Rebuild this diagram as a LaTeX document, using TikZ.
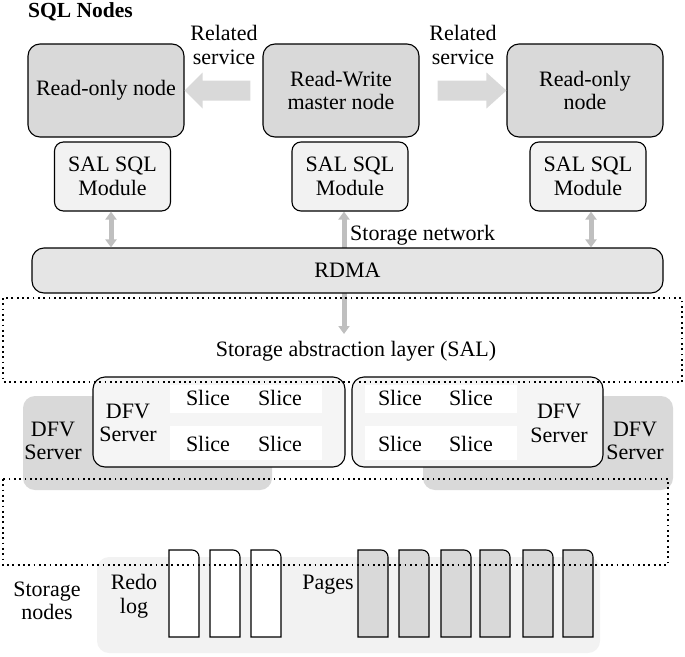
\documentclass[tikz,border=0pt]{standalone}
\usepackage{fontspec}
\setmainfont{Liberation Serif}
\usetikzlibrary{arrows.meta,calc}
\pgfdeclarelayer{bg}
\pgfdeclarelayer{fg}
\pgfsetlayers{bg,main,fg}
\begin{document}
\begin{tikzpicture}[x=1pt,y=-1pt,
  font=\fontsize{22}{23.5}\selectfont,
  box/.style={draw, line width=1.1pt, rounded corners=#1, align=center, inner sep=0pt},
  sqlnode/.style={box=12pt, fill=gray!30, minimum width=156pt, minimum height=93pt},
  module/.style={box=9pt, fill=gray!10, minimum width=116pt, minimum height=69pt},
  lbl/.style={inner sep=0pt, align=center},
  bigarrow/.style={fill=gray!30, draw=none},
  vlink/.style={draw=gray!50, line width=5pt, >={Triangle[width=11pt,length=8pt]}, <->},
  dotbox/.style={draw, line width=1.8pt, dash pattern=on 1.8pt off 3.5pt},
  grayback/.style={fill=gray!30, rounded corners=12pt, draw=none, inner sep=0pt},
  slicerow/.style={fill=white, draw=none, inner sep=0pt, minimum width=152pt},
  doc/.style={draw, line width=1.1pt}
]
\useasboundingbox (0,0) rectangle (685,656);

% title
\node[lbl, anchor=west, font=\fontsize{21.5}{23.5}\selectfont\bfseries] (title) at (28,12) {SQL Nodes};

% SQL nodes
\node[sqlnode] (ro1) at (106,90.5) {Read-only node};
\node[sqlnode] (master) at (341,90.5) {Read-Write\\master node};
\node[sqlnode] (ro2) at (585,90.5) {Read-only\\node};

\node[module] (sal1) at (112.5,176.5) {SAL SQL\\Module};
\node[module] (sal2) at (350,176.5) {SAL SQL\\Module};
\node[module] (sal3) at (588,176.5) {SAL SQL\\Module};

% related service arrows
\fill[bigarrow] (ro1.east) -- ++(18,-18) -- ++(0,8) -- ($(master.west)+(-12,-10)$) -- ++(0,20)
  -- ($(ro1.east)+(18,10)$) -- ++(0,8) -- cycle;
\fill[bigarrow] (ro2.west) -- ++(-20,-18) -- ++(0,8) -- ($(master.east)+(18,-10)$) -- ++(0,20)
  -- ($(ro2.west)+(-20,10)$) -- ++(0,8) -- cycle;
\node[lbl] (rs1) at (224,45) {Related\\service};
\node[lbl] (rs2) at (463,45) {Related\\service};

% RDMA
\node[box=12pt, fill=gray!20, minimum width=631pt, minimum height=45pt] (rdma) at (347.5,270.5) {RDMA};
\node[lbl, anchor=west] (net) at (350,235) {Storage network};

% SAL layer label
\node[lbl] (sal) at (356,351) {Storage abstraction layer (SAL)};
\coordinate (salin) at (344,334);

% vertical links
\draw[vlink] ([xshift=-1.5pt]sal1.south) -- ([xshift=-1.5pt]sal1.south |- rdma.north);
\draw[vlink] ([xshift=3pt]sal3.south) -- ([xshift=3pt]sal3.south |- rdma.north);
\begin{pgfonlayer}{bg}
\draw[vlink] ([xshift=-6pt]sal2.south) -- (salin);
\end{pgfonlayer}

% DFV servers
\node[grayback, minimum width=249pt, minimum height=94pt] (dfvbgL) at (147.5,443) {};
\node[grayback, minimum width=250pt, minimum height=94pt] (dfvbgR) at (548,443) {};
\node[box=12pt, fill=gray!8, minimum width=252pt, minimum height=90pt] (dfvL) at (219,422) {};
\node[box=12pt, fill=gray!8, minimum width=251pt, minimum height=90pt] (dfvR) at (477.5,422) {};

\node[slicerow, minimum height=28pt] (rowL1) at (246,399) {};
\node[slicerow, minimum height=34pt] (rowL2) at (246,443) {};
\node[slicerow, minimum height=28pt] (rowR1) at (441,399) {};
\node[slicerow, minimum height=34pt] (rowR2) at (441,443) {};

\node[lbl] (sL11) at (208,398) {Slice};
\node[lbl] (sL12) at (280,398) {Slice};
\node[lbl] (sL21) at (208,444) {Slice};
\node[lbl] (sL22) at (280,444) {Slice};
\node[lbl] (sR11) at (400,398) {Slice};
\node[lbl] (sR12) at (471,398) {Slice};
\node[lbl] (sR21) at (400,444) {Slice};
\node[lbl] (sR22) at (471,444) {Slice};

\node[lbl] (dfvinL) at (128,423) {DFV\\Server};
\node[lbl] (dfvoutL) at (53,441) {DFV\\Server};
\node[lbl] (dfvinR) at (559,423.5) {DFV\\Server};
\node[lbl] (dfvoutR) at (635,441) {DFV\\Server};

% storage nodes
\node[grayback, fill=gray!10, minimum width=503pt, minimum height=96pt] (store) at (348.5,605) {};
\node[lbl] (stlabel) at (47,601) {Storage\\nodes};
\node[lbl] (redo) at (134,596) {Redo\\log};
\node[lbl] (pages) at (328,585) {Pages};

\foreach \x/\f in {169/white,210/white,251/white,358/gray!30,399/gray!30,441/gray!30,480/gray!30,523/gray!30,563/gray!30}{
  \draw[doc, fill=\f] (\x,637) -- (\x,550) -- (\x+23,550) .. controls (\x+27,550) and (\x+30,553) .. (\x+30,557) -- (\x+30,637) -- cycle;
}

% dotted boxes
\begin{pgfonlayer}{fg}
\draw[dotbox] (3,298) rectangle (682,382);
\draw[dotbox] (3,479) rectangle (668,565);
\end{pgfonlayer}
\end{tikzpicture}
\end{document}
